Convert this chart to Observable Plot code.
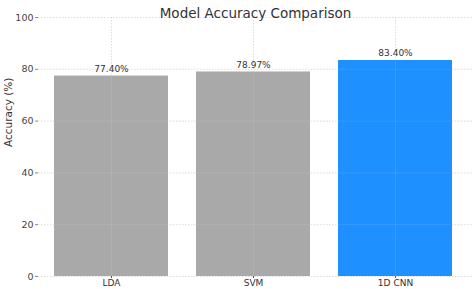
<!DOCTYPE html>
<html>
<head>
<meta charset="utf-8">
<script src="https://cdn.jsdelivr.net/npm/d3@7"></script>
<script src="https://cdn.jsdelivr.net/npm/@observablehq/plot@0.6"></script>
<style>
  body { margin: 0; background: #fff; }
  svg { font-family: "DejaVu Sans", sans-serif; }
</style>
</head>
<body>
<div id="chart"></div>
<script>
// Accuracy per model, in percent
const models = ["LDA", "SVM", "1D CNN"];
const accuracy = [77.40, 78.97, 83.40];
const barColors = ["#a9a9a9", "#a9a9a9", "#1e90ff"];
const yTicks = [0, 20, 40, 60, 80, 100];

const data = models.map((m, i) => ({ model: m, acc: accuracy[i], color: barColors[i] }));

const chart = Plot.plot({
  width: 474,
  height: 289,
  marginTop: 17,
  marginBottom: 13,
  marginLeft: 38,
  marginRight: 2,
  style: { fontFamily: "DejaVu Sans, sans-serif", fontSize: "9px", color: "#444", background: "#fff" },
  x: { domain: models, paddingInner: 0.2, paddingOuter: 0.128, align: 0.44, label: null },
  y: { domain: [0, 100], ticks: yTicks, label: "Accuracy (%)" },
  color: { type: "identity" },
  marks: [
    // dotted grid behind the bars
    Plot.gridX(models, { stroke: "#cfcfcf", strokeOpacity: 1, strokeDasharray: "1.5,1.5", strokeWidth: 0.8 }),
    Plot.gridY(yTicks, { stroke: "#cfcfcf", strokeOpacity: 1, strokeDasharray: "1.5,1.5", strokeWidth: 0.8 }),
    Plot.barY(data, { x: "model", y: "acc", fill: "color" }),
    // faint grid showing through the bars
    Plot.gridX(models, { stroke: "#fff", strokeOpacity: 0.1, strokeWidth: 1 }),
    Plot.gridY(yTicks, { stroke: "#fff", strokeOpacity: 0.1, strokeWidth: 1 }),
    Plot.axisY(yTicks, {
      tickSize: 3, tickPadding: 2, stroke: "#888", fill: "#444", fontSize: 9.5,
      label: null
    }),
    Plot.text(["Accuracy (%)"], { frameAnchor: "left", dx: -30, rotate: -90, fontSize: 10.5, fill: "#333" }),
    Plot.axisX({ tickSize: 2, tickPadding: 1, stroke: "#555", fill: "#333", fontSize: 9, label: null }),
    Plot.text(data, { x: "model", y: "acc", text: d => d.acc.toFixed(2) + "%", dy: -7, fontSize: 9, fill: "#333" }),
    Plot.text(["Model Accuracy Comparison"], { frameAnchor: "top", dy: -9, fontSize: 13.5, fill: "#333" })
  ]
});

document.getElementById("chart").appendChild(chart);
</script>
</body>
</html>
